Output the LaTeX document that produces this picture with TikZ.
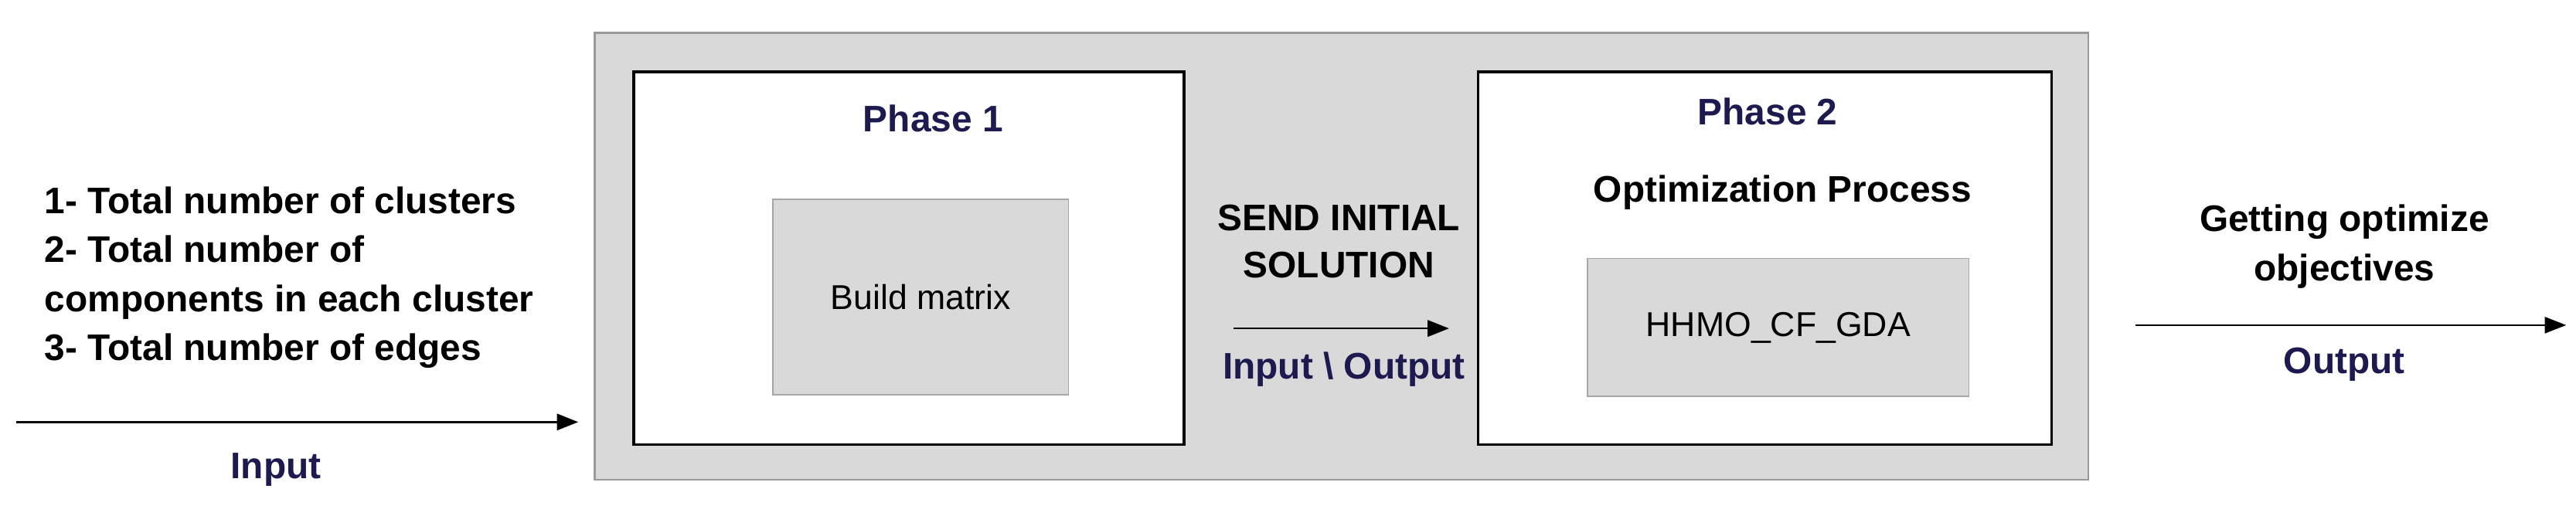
\documentclass[tikz,border=0pt]{standalone}
\usepackage{fontspec}
\setmainfont{Liberation Sans}
\usetikzlibrary{arrows.meta}
\definecolor{navy}{HTML}{1C1A4E}
\definecolor{boxgray}{HTML}{D9D9D9}
\begin{document}
\begin{tikzpicture}[x=1pt,y=-1pt,
  lbl/.style={font=\fontsize{22.5}{27}\selectfont\bfseries,align=center,inner sep=0pt},
  arr/.style={draw,line width=1.2pt,-{Triangle[length=13pt,width=10pt]}}]
\useasboundingbox (0,0) rectangle (1568,308);
\fill[boxgray,draw=gray!80,line width=1pt] (362,20) rectangle (1271,292);
\node[draw,fill=white,line width=1.5pt,minimum width=335pt,minimum height=227pt,anchor=north west,inner sep=0pt] (p1) at (385,43) {};
\node[draw=gray!70,fill=boxgray,line width=0.8pt,minimum width=180pt,minimum height=119pt,anchor=north west,inner sep=0pt,font=\fontsize{21}{25}\selectfont] (bm) at (470,121) {Build matrix};
\node[draw,fill=white,line width=1.5pt,minimum width=349pt,minimum height=227pt,anchor=north west,inner sep=0pt] (p2) at (899,43) {};
\node[draw=gray!70,fill=boxgray,line width=0.8pt,minimum width=232pt,minimum height=84pt,anchor=north west,inner sep=0pt,font=\fontsize{21}{25}\selectfont] (hh) at (966,157) {HHMO\_CF\_GDA};
\node[lbl,text=navy] (t1) at (568,72) {Phase 1};
\node[lbl,text=navy] (t2) at (1076,68) {Phase 2};
\node[lbl,text=black] (op) at (1085,117) {Optimization Process};
\node[lbl,align=left,anchor=west,font=\fontsize{22.5}{29.7}\selectfont\bfseries] (lt) at (27,169) {1- Total number of clusters\\2- Total number of\\components in each cluster\\3- Total number of edges};
\coordinate (ia) at (10,257); \coordinate (ib) at (352,257);
\draw[arr] (ia) -- (ib);
\node[lbl,text=navy] (in) at (168,286) {Input};
\node[lbl,font=\fontsize{22.5}{29}\selectfont\bfseries] (send) at (815,147) {SEND INITIAL\\SOLUTION};
\coordinate (ma) at (751,200); \coordinate (mb) at (882,200);
\draw[arr] (ma) -- (mb);
\node[lbl,text=navy] (io) at (818,225) {Input \textbackslash{} Output};
\node[lbl,font=\fontsize{22.5}{30}\selectfont\bfseries] (get) at (1427,150) {Getting optimize\\objectives};
\coordinate (ra) at (1300,198); \coordinate (rb) at (1562,198);
\draw[arr,line width=0.8pt] (ra) -- (rb);
\node[lbl,text=navy] (out) at (1427,222) {Output};
\end{tikzpicture}
\end{document}
